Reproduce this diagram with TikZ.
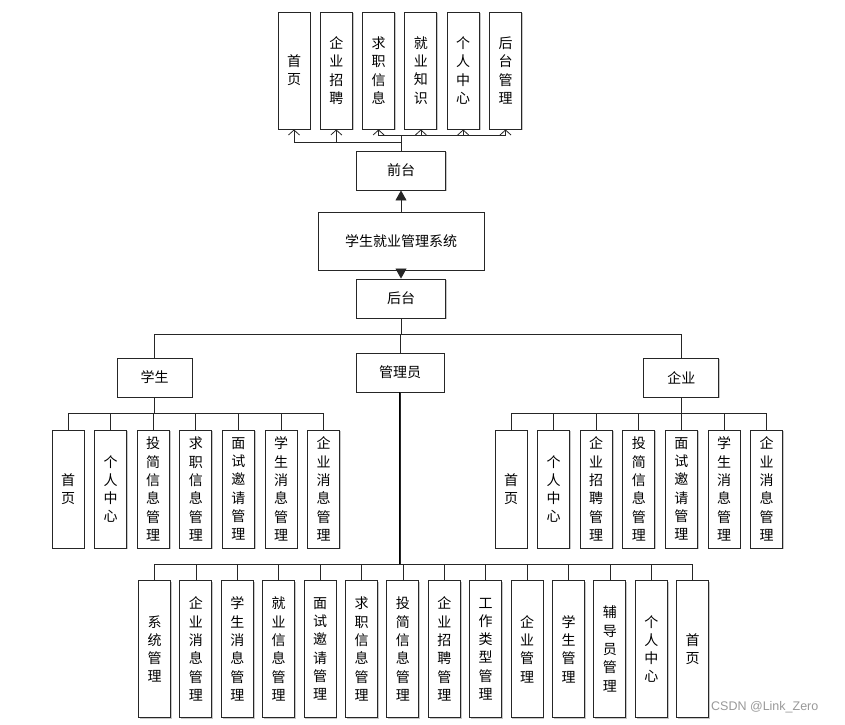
\documentclass[tikz,border=0pt]{standalone}
\usepackage{fontspec}
\setmainfont{Noto Sans CJK SC}
\newfontfamily\wmfont{Liberation Sans}
\usetikzlibrary{arrows.meta,shadows}
\begin{document}
\begin{tikzpicture}[x=1pt,y=-1pt,
  box/.style={draw=black!85,line width=0.9pt,fill=white,inner sep=0pt,align=center,
    font=\fontsize{14}{18.3}\selectfont,
    drop shadow={shadow xshift=1.3pt,shadow yshift=-1.3pt,fill=black,opacity=0.22}},
  topbox/.style={box,minimum width=32pt,minimum height=117pt},
  sbox/.style={box,minimum width=32pt,minimum height=118pt},
  abox/.style={box,minimum width=32pt,minimum height=137pt},
  hbox/.style={box,minimum width=89pt,minimum height=39pt},
  conn/.style={draw=black!85,line width=0.8pt},
  openarr/.style={-{Straight Barb[length=5pt,width=11pt,line width=0.8pt]}},
  fillarr/.style={-{Triangle[length=10pt,width=11pt]}},
]
\useasboundingbox (0,0) rectangle (845,724);
\fill[white] (0,0) rectangle (845,724);

% top level
\foreach \t [count=\i] in {首\\页,企\\业\\招\\聘,求\\职\\信\\息,就\\业\\知\\识,个\\人\\中\\心,后\\台\\管\\理}
  \node[topbox] (t\i) at ({294+42.3*(\i-1)},70.5) {\t};

\node[hbox] (qt) at (401,170.5) {前台};
\node[box,minimum width=166pt,minimum height=58pt] (sys) at (401,241) {学生就业管理系统};
\node[hbox] (ht) at (401,298.5) {后台};
\node[box,minimum width=88pt,minimum height=39pt] (gly) at (400,372.5) {管理员};
\node[box,minimum width=75pt,minimum height=39pt] (xs) at (154.6,377.5) {学生};
\node[box,minimum width=75pt,minimum height=39pt] (qy) at (681.3,377.5) {企业};

% student children
\foreach \t [count=\i from 0] in {首\\页,个\\人\\中\\心,投\\简\\信\\息\\管\\理,求\\职\\信\\息\\管\\理,面\\试\\邀\\请\\管\\理,学\\生\\消\\息\\管\\理,企\\业\\消\\息\\管\\理}
  \node[sbox] (s\i) at ({68+42.6*\i},489) {\t};

% enterprise children
\foreach \t [count=\i from 0] in {首\\页,个\\人\\中\\心,企\\业\\招\\聘\\管\\理,投\\简\\信\\息\\管\\理,面\\试\\邀\\请\\管\\理,学\\生\\消\\息\\管\\理,企\\业\\消\\息\\管\\理}
  \node[sbox] (e\i) at ({511+42.6*\i},489) {\t};

% admin children
\foreach \t [count=\i from 0] in {系\\统\\管\\理,企\\业\\消\\息\\管\\理,学\\生\\消\\息\\管\\理,就\\业\\信\\息\\管\\理,面\\试\\邀\\请\\管\\理,求\\职\\信\\息\\管\\理,投\\简\\信\\息\\管\\理,企\\业\\招\\聘\\管\\理,工\\作\\类\\型\\管\\理,企\\业\\管\\理,学\\生\\管\\理,辅\\导\\员\\管\\理,个\\人\\中\\心,首\\页}
  \node[abox] (a\i) at ({154.5+41.4*\i},649) {\t};

% connectors: front end
\foreach \i in {1,2}
  \draw[conn,openarr] (qt.north) -- ++(0,-8) -| (t\i.south);
\foreach \i in {3,4,5,6}
  \draw[conn,openarr] (qt.north) -- ++(0,-15) -| (t\i.south);

\draw[conn,fillarr] (sys.north) -- (qt.south);
\draw[conn,fillarr] (sys.south) -- (ht.north);

% back end bus
\draw[conn] (ht.south) -- ++(0,16) -| (xs.north);
\draw[conn] (ht.south) -- ++(0,16) -| (qy.north);
\draw[conn] (ht.south) -- ++(0,16) -| (gly.north);

\foreach \i in {0,...,6}{
  \draw[conn] (xs.south) -- ++(0,16) -| (s\i.north);
  \draw[conn] (qy.south) -- ++(0,16) -| (e\i.north);
}

\draw[line width=1.8pt] (gly.south) -- ++(0,172) -- ++(87,0);
\foreach \i in {0,...,13}
  \draw[conn] (gly.south) -- ++(0,172) -| (a\i.north);

\node[anchor=west,text=black!40,font=\wmfont\fontsize{12.5}{14}\selectfont,inner sep=0pt] (wm) at (711,707) {CSDN @Link\_Zero};
\end{tikzpicture}
\end{document}
